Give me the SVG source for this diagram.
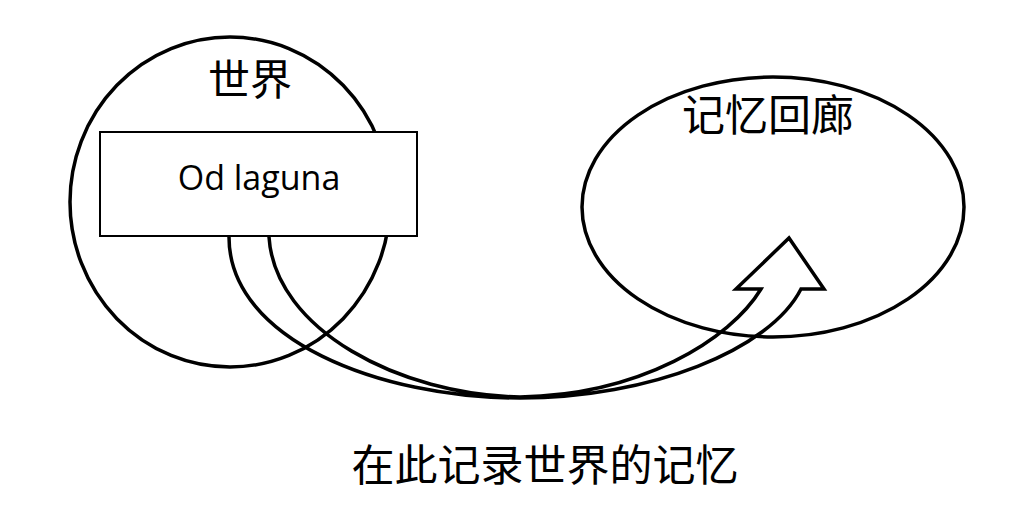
<svg xmlns="http://www.w3.org/2000/svg" width="1011" height="513" viewBox="0 0 1011 513">
<style>
.s{fill:none;stroke:#000;stroke-width:3.5}
.t{font-family:"Noto Sans CJK SC","Liberation Sans",sans-serif;fill:#000;text-anchor:middle}
</style>
<rect width="1011" height="513" fill="#fff"/>
<g id="world"><ellipse class="s" cx="230" cy="202" rx="160" ry="165"/><text class="t" x="250" y="95" font-size="42">世界</text></g>
<g id="gallery"><ellipse class="s" cx="773" cy="207" rx="191" ry="130"/><text class="t" x="768" y="131" font-size="43">记忆回廊</text></g>
<g id="odlaguna"><rect x="100" y="132" width="317" height="104" fill="#fff" stroke="#000" stroke-width="2"/><text class="t" x="259" y="190" font-size="34" style="font-family:'Open Sans','Noto Sans',sans-serif">Od laguna</text></g>
<g id="connectors">
<path class="s" d="M229,237 C229,340 380,398 520,398 C650,398 770,350 801,289 L824,289 L789,238 L736,289 L761,289 C730,340 640,395 520,397 C400,395 275,330 269,237"/>
</g>
<text class="t" x="545" y="481" font-size="43">在此记录世界的记忆</text>
</svg>
